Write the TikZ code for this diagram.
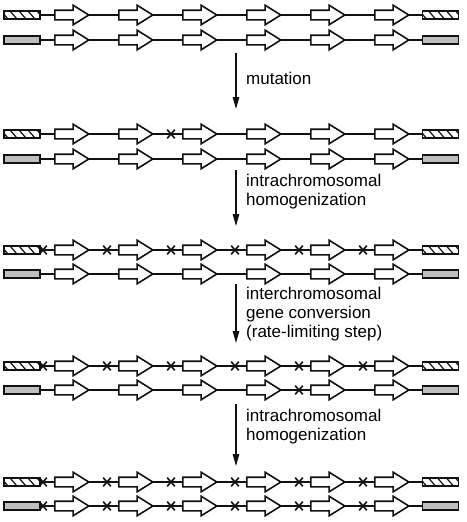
\documentclass[tikz,border=0pt]{standalone}
\usepackage{fontspec}
\setmainfont{Liberation Sans}
\usetikzlibrary{arrows.meta,shapes.arrows,shapes.misc}
\definecolor{ink}{HTML}{111111}
\definecolor{stip}{HTML}{BEBEBE}
\tikzset{
  box/.style={rectangle, draw=ink, line width=1.5pt, inner sep=0pt, minimum width=36pt, minimum height=8pt},
  hat/.style={box, fill=white, path picture={\foreach \k in {0,...,4}
      \draw[ink, line width=1.2pt] ([xshift=\k*9pt-3pt]path picture bounding box.north west) -- ++(7pt,-8pt);}},
  dot/.style={box, fill=stip},
  gene/.style={single arrow, draw=ink, fill=white, line width=1.6pt, inner sep=0pt,
    text height=4pt, text depth=4pt, minimum height=34pt, single arrow head extend=5pt,
    single arrow tip angle=64, anchor=tail},
  chr/.style={ink, line width=1.5pt},
  xmark/.style={cross out, draw=ink, line width=1.6pt, inner sep=0pt, minimum width=6pt, minimum height=7pt},
  down/.style={ink, line width=1.3pt, -{Triangle[length=12pt, width=6.5pt]}},
  lab/.style={anchor=west, align=left, inner sep=0pt, font=\fontsize{17}{19}\selectfont},
}
\newcommand{\chrom}[3]{%
  \node[#3] (#1L) at (22,#2) {};
  \node[#3] (#1R) at (440.5,#2) {};
  \draw[chr] (#1L) -- (#1R);
  \foreach \g in {1,...,6}{\node[gene] (#1g\g) at ({54+64*(\g-1)},#2) {};}}
\newcommand{\muts}[3]{\foreach \m in {#3}{\node[xmark] (#1x\m) at ({43+64*(\m-1)},#2) {};}}

\begin{document}
\begin{tikzpicture}[x=1pt, y=-1pt]
  \useasboundingbox (0,0) rectangle (466,522);
  % stage 1: no mutation
  \chrom{aU}{15}{hat}
  \chrom{aD}{40}{dot}
  % stage 2
  \chrom{bU}{134}{hat}
  \chrom{bD}{159}{dot}
  \muts{bU}{134}{3}
  % stage 3
  \chrom{cU}{250}{hat}
  \chrom{cD}{274}{dot}
  \muts{cU}{250}{1,...,6}
  % stage 4
  \chrom{dU}{366}{hat}
  \chrom{dD}{390}{dot}
  \muts{dU}{366}{1,...,6}
  \muts{dD}{390}{5}
  % stage 5
  \chrom{eU}{482}{hat}
  \chrom{eD}{506}{dot}
  \muts{eU}{482}{1,...,6}
  \muts{eD}{506}{1,...,6}
  % steps
  \coordinate (s1) at (236,53);  \coordinate (e1) at (236,109);
  \coordinate (s2) at (236,170); \coordinate (e2) at (236,226);
  \coordinate (s3) at (236,284); \coordinate (e3) at (236,343);
  \coordinate (s4) at (236,404); \coordinate (e4) at (236,466);
  \foreach \i in {1,...,4} \draw[down] (s\i) -- (e\i);
  \node[lab] (t1) at (246,78) {mutation};
  \node[lab] (t2) at (246,192) {intrachromosomal\\homogenization};
  \node[lab] (t3) at (246,314) {interchromosomal\\gene conversion\\(rate-limiting step)};
  \node[lab] (t4) at (246,427) {intrachromosomal\\homogenization};
\end{tikzpicture}
\end{document}
